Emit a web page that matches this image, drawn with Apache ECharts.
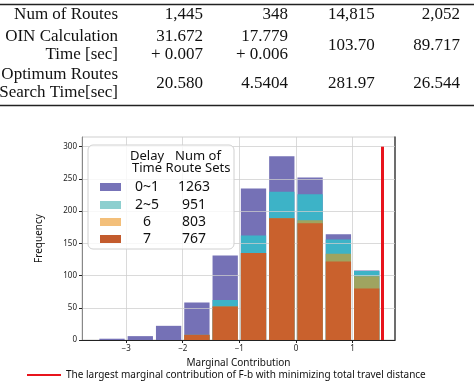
<!DOCTYPE html>
<html><head><meta charset="utf-8">
<script src="https://cdn.jsdelivr.net/npm/echarts@6/dist/echarts.min.js"></script>
<style>html,body{margin:0;padding:0;background:#fff}#c{width:474px;height:381px}</style>
</head><body><div id="c"></div>
<script>
// ---- data ----
var binStart = [-3.5, -3, -2.5, -2, -1.5, -1, -0.5, 0, 0.5, 1];
var binWidth = 0.5;
var delay01 = [2, 6, 22, 58, 131, 235, 285, 252, 164, 108];
var delay25 = [0, 0, 0, 8, 62, 162, 230, 226, 156, 107];
var delay6  = [0, 0, 0, 8, 52, 135, 189, 186, 134, 99];
var delay7  = [0, 0, 0, 8, 52, 135, 189, 181, 122, 80];
var redLineX = 1.52;
var redLineTop = 300;
var xTicks = [-3, -2, -1, 0, 1];
var yTicks = [0, 50, 100, 150, 200, 250, 300];
var legendDelay = ['0~1', '2~5', '6', '7'];
var legendCounts = ['1263', '951', '803', '767'];
var tableRowLabels = [['Num of Routes'], ['OIN Calculation', 'Time [sec]'], ['Optimum Routes', 'Search Time[sec]']];
var tableCol1 = [['1,445'], ['31.672', '+ 0.007'], ['20.580']];
var tableCol2 = [['348'], ['17.779', '+ 0.006'], ['4.5404']];
var tableCol3 = [['14,815'], ['103.70'], ['281.97']];
var tableCol4 = [['2,052'], ['89.717'], ['26.544']];

var barColors = ['#7571b6', '#3db3c7', '#9fa460', '#c9612d'];
var legendColors = ['#7773b8', '#8dcfcf', '#f3bf7a', '#c35b2d'];
var seriesData = [delay01, delay25, delay6, delay7];
var seriesNames = ['0~1', '2~5', '6', '7'];

function mkSeries(idx) {
  var vals = seriesData[idx];
  return {
    type: 'custom', name: seriesNames[idx], z: 2 + idx,
    data: binStart.map(function (s, i) { return [s, vals[i]]; }),
    encode: { x: 0, y: 1 },
    renderItem: function (params, api) {
      var v = api.value(1);
      if (!v) return null;
      var x0 = api.value(0);
      var p0 = api.coord([x0, 0]);
      var p1 = api.coord([x0 + binWidth, v]);
      return {
        type: 'rect',
        shape: { x: p0[0] + 1.5, y: p1[1], width: p1[0] - p0[0] - 3, height: p0[1] - p1[1] },
        style: { fill: barColors[idx] }
      };
    }
  };
}

var font = '"Noto Sans", "Open Sans", sans-serif';
var serif = '"Liberation Serif", "DejaVu Serif", serif';
var graphics = [];

// table
graphics.push({ type: 'line', shape: { x1: 0, y1: 4.5, x2: 474, y2: 4.5 }, style: { stroke: '#222', lineWidth: 1.3 } });
graphics.push({ type: 'line', shape: { x1: 0, y1: 105.5, x2: 474, y2: 105.5 }, style: { stroke: '#222', lineWidth: 1.3 } });
var rowY = [[15], [37, 55], [75, 93]];
var rowMidY = [15, 46, 84];
function tableText(txt, x, y, align) {
  graphics.push({ type: 'text', x: x, y: y, style: { text: txt, font: '17px ' + serif, fill: '#111', textAlign: align, textVerticalAlign: 'middle' } });
}
tableRowLabels.forEach(function (lines, r) {
  lines.forEach(function (t, k) { tableText(t, 118, rowY[r][k], 'right'); });
});
[[tableCol1, 203, 'right'], [tableCol2, 288, 'right'], [tableCol3, 328, 'left'], [tableCol4, 460, 'right']].forEach(function (c) {
  c[0].forEach(function (lines, r) {
    if (lines.length === 2) lines.forEach(function (t, k) { tableText(t, c[1], rowY[r][k], c[2]); });
    else tableText(lines[0], c[1], rowMidY[r], c[2]);
  });
});

// chart legend box
graphics.push({ type: 'rect', z: 100, shape: { x: 88, y: 145, width: 146, height: 104, r: 5 }, style: { fill: 'rgba(255,255,255,0.8)', stroke: '#d0d0d0', lineWidth: 1 } });
function lt(t, x, y, size) {
  graphics.push({ type: 'text', z: 101, x: x, y: y, style: { text: t, font: size + 'px ' + font, fill: '#111', textAlign: 'center', textVerticalAlign: 'middle' } });
}
lt('Delay', 147, 156, 13); lt('Time', 147, 168, 13);
lt('Num of', 198, 156, 13); lt('Route Sets', 198, 168, 13);
var legRowY = [187, 205, 222, 239];
legendDelay.forEach(function (d, i) {
  graphics.push({ type: 'rect', z: 101, shape: { x: 100, y: legRowY[i] - 4, width: 21, height: 8 }, style: { fill: legendColors[i] } });
  lt(d, 147, legRowY[i], 14);
  lt(legendCounts[i], 194, legRowY[i], 14);
});

// bottom legend
graphics.push({ type: 'line', shape: { x1: 27, y1: 375, x2: 61, y2: 375 }, style: { stroke: '#e8141c', lineWidth: 2 } });
graphics.push({ type: 'text', x: 66, y: 375, style: { text: 'The largest marginal contribution of F-b with minimizing total travel distance', font: '10px ' + font, fill: '#111', textVerticalAlign: 'middle' } });

var series = [0, 1, 2, 3].map(mkSeries);
series.push({
  type: 'line', data: [], z: 10,
  markLine: {
    symbol: 'none', silent: true, label: { show: false },
    lineStyle: { color: '#e8141c', width: 3, type: 'solid' },
    data: [[{ coord: [redLineX, 0] }, { coord: [redLineX, redLineTop] }]]
  }
});

var chart = echarts.init(document.getElementById('c'), null, { renderer: 'canvas' });
chart.setOption({
  animation: false,
  grid: { left: 82, right: 79, top: 137, bottom: 41, show: true, borderColor: '#cfcfcf', borderWidth: 1 },
  xAxis: {
    type: 'value', min: -3.78, max: 1.75, z: 5,
    name: 'Marginal Contribution', nameLocation: 'middle', nameGap: 16,
    nameTextStyle: { fontFamily: font, fontSize: 10, color: '#111' },
    axisLine: { show: true, onZero: false, lineStyle: { color: '#222', width: 1 } },
    axisTick: { show: true, customValues: xTicks, length: 3, lineStyle: { color: '#222' } },
    axisLabel: { customValues: xTicks, fontFamily: font, fontSize: 8, color: '#222', margin: 5,
      formatter: function (v) { return v < 0 ? '\u2212' + Math.abs(v) : String(v); } },
    splitLine: { show: true, lineStyle: { color: 'rgba(205,205,205,0.75)', width: 1 } }
  },
  yAxis: [{
    type: 'value', min: 0, max: 315, z: 5,
    name: 'Frequency', nameLocation: 'middle', nameGap: 38, nameRotate: 90,
    nameTextStyle: { fontFamily: font, fontSize: 10, color: '#111' },
    axisLine: { show: true, onZero: false, lineStyle: { color: '#888', width: 1 } },
    axisTick: { show: true, customValues: yTicks, length: 3, lineStyle: { color: '#222' } },
    axisLabel: { customValues: yTicks, fontFamily: font, fontSize: 8, color: '#222', margin: 5 },
    splitLine: { show: true, lineStyle: { color: 'rgba(205,205,205,0.75)', width: 1 } }
  }, {
    type: 'value', min: 0, max: 315, position: 'right',
    axisLine: { show: true, onZero: false, lineStyle: { color: '#444', width: 1.5 } },
    axisTick: { show: false }, axisLabel: { show: false }, splitLine: { show: false }
  }],
  series: series,
  graphic: graphics
});
</script></body></html>
